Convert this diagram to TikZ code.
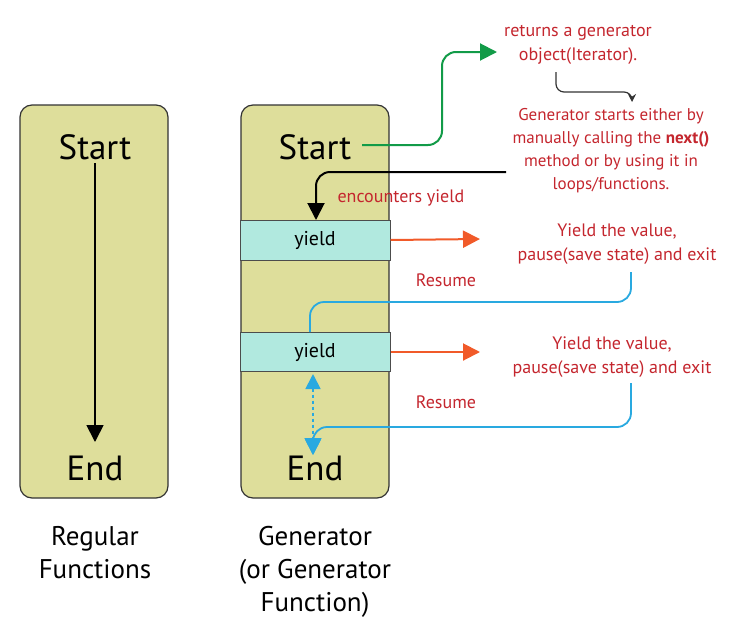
\documentclass[tikz,border=0pt]{standalone}
\usepackage{fontspec}
\setmainfont{PT Sans}
\usetikzlibrary{arrows.meta}
\definecolor{boxc}{HTML}{DEDE9B}
\definecolor{yc}{HTML}{B1E9DF}
\definecolor{redc}{HTML}{C4262E}
\definecolor{gc}{HTML}{129B48}
\definecolor{oc}{HTML}{F15A29}
\definecolor{bc}{HTML}{29A9E0}
\begin{document}
\begin{tikzpicture}[x=1pt,y=-1pt,
  box/.style={draw=black!80,line width=1.2pt,fill=boxc,rounded corners=12pt},
  band/.style={draw=black!70,line width=1pt,fill=yc},
  big/.style={font=\fontsize{35}{35}\selectfont},
  captxt/.style={font=\fontsize{27}{33}\selectfont,align=center},
  redtxt/.style={text=redc,font=\fontsize{18}{24}\selectfont,align=center},
  arr/.style={-{Triangle[length=17pt,width=17pt]},line width=2pt},
  rnd/.style={rounded corners=14pt}]
\useasboundingbox (0,0) rectangle (749,640);
\path[box] (20,105) rectangle (168,498);
\path[box] (241,105) rectangle (389,498);
\node[band,minimum width=150pt,minimum height=40pt,inner sep=0,font=\fontsize{20}{20}\selectfont] (y1) at (315,240) {yield};
\node[band,minimum width=150pt,minimum height=39pt,inner sep=0,font=\fontsize{20}{20}\selectfont] (y2) at (315,352) {yield};
\node[big] (s1) at (95,147) {Start};
\node[big] (e1) at (95,468) {End};
\node[big] (s2) at (315,147) {Start};
\node[big] (e2) at (315,468) {End};
\node[captxt] (c1) at (95,553) {Regular\\Functions};
\node[captxt] (c2) at (315,572) {Generator\\(or Generator\\Function)};
\draw[arr,line width=1.8pt] (s1.south) -- (95,442);
\node[redtxt] (t1) at (578,45) {returns a generator\\object(Iterator).};
\node[redtxt,font=\fontsize{17}{23}\selectfont] (t2) at (611,151) {Generator starts either by\\manually calling the \textbf{next()}\\method or by using it in\\loops/functions.};
\node[redtxt,anchor=west] (enc) at (334,198) {encounters yield};
\node[redtxt] (t3) at (617,244) {Yield the value,\\pause(save state) and exit};
\node[redtxt] (t4) at (612,357) {Yield the value,\\pause(save state) and exit};
\node[redtxt] (r1) at (446,280) {Resume};
\node[redtxt] (r2) at (446,402) {Resume};
\coordinate (gA) at (362,145);
\draw[arr,gc,rnd] (gA) -- (442,145) -- (442,52) -- (497,52);
\draw[-{Stealth[length=8pt,width=8pt]},line width=1.2pt,black!80,rounded corners=8pt] (556,72) -- (556,92) -- (632,92) -- (632,102);
\coordinate (bA) at (506,172);
\draw[arr,black,rnd] (bA) -- (316,172) -- (316,220);
\draw[arr,oc] (y1.east) -- (480,239);
\draw[arr,oc] (y2.east) -- (480,352);
\coordinate (b1) at (631,272);
\draw[bc,line width=1.8pt,rnd] (b1) -- (631,302) -- (310,302) -- (y2.north -| 310,0);
\coordinate (b2) at (631,383);
\draw[arr,bc,line width=1.8pt,rnd] (b2) -- (631,427) -- (313,427) -- (313,455);
\draw[bc,line width=1.8pt,dashed,{Triangle[length=15pt,width=15pt]}-{Triangle[length=15pt,width=15pt]}] (313,374) -- (313,455);
\end{tikzpicture}
\end{document}
